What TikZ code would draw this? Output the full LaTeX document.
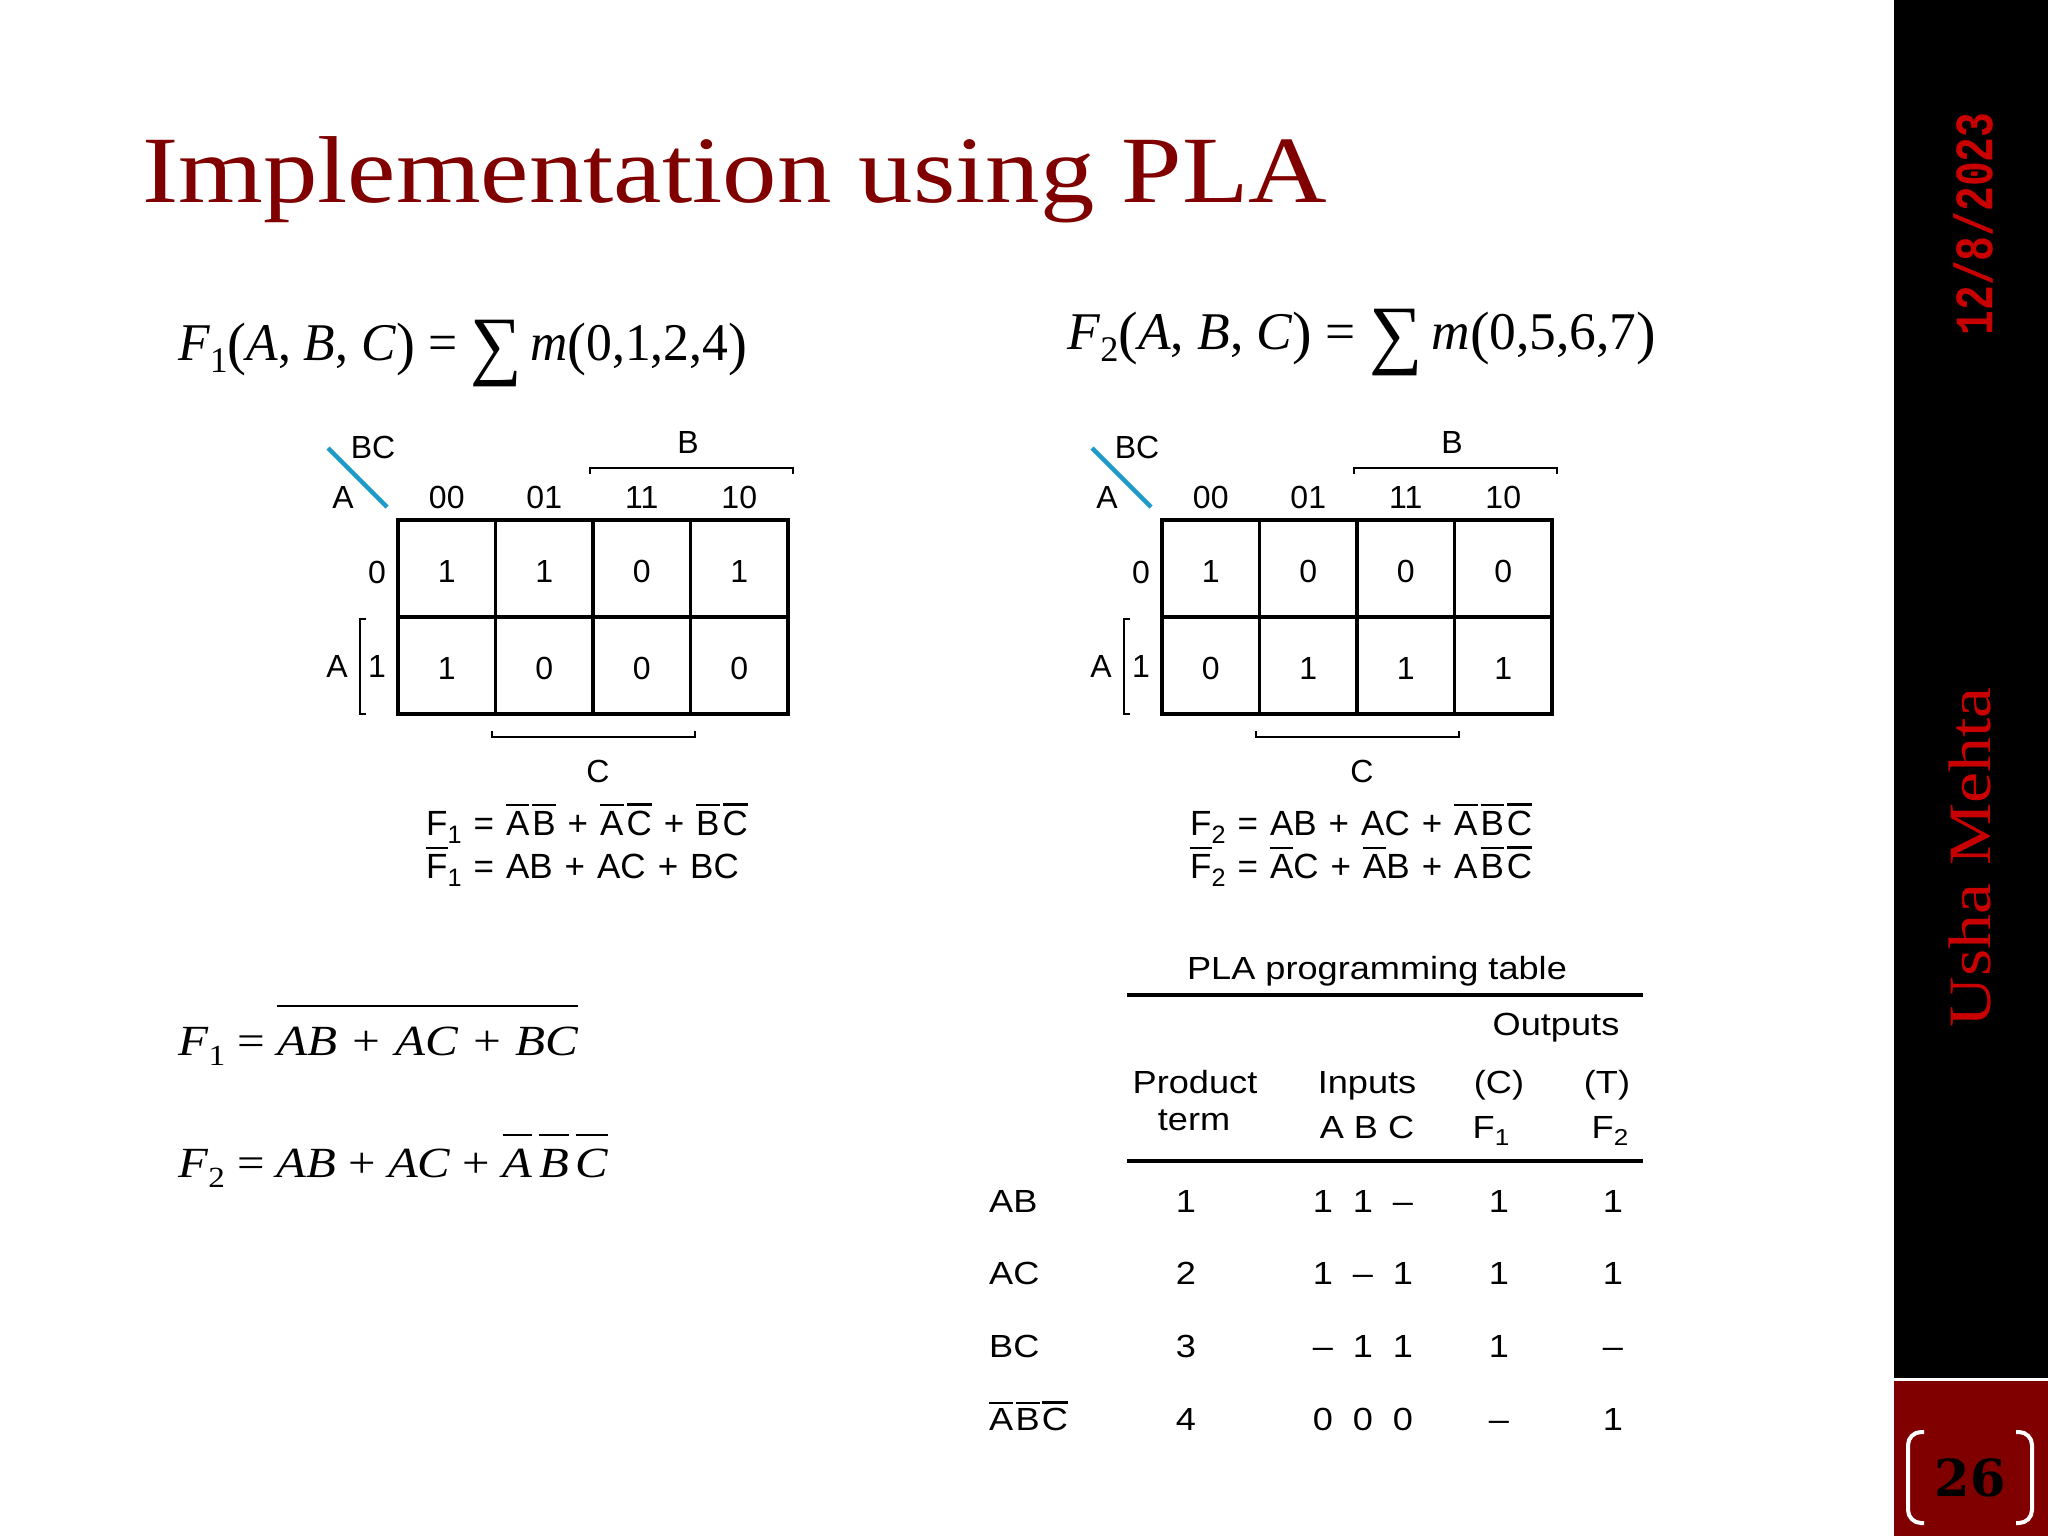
\documentclass[tikz,border=0pt]{standalone}
\usepackage{fontspec}
\setmainfont{Liberation Serif}
\newfontfamily\sansf{Liberation Sans}
\newfontfamily\monof{Liberation Mono}
\newfontfamily\dvsf{DejaVu Serif}
\definecolor{titlered}{RGB}{128,0,0}
\definecolor{sidered}{RGB}{200,0,0}
\definecolor{boxred}{RGB}{128,0,0}
\definecolor{kblue}{RGB}{30,155,200}
\newcommand\fitw[2]{\resizebox{#1}{\height}{#2}}
\newcommand\ovbar[3]{\vbox{\hrule height #1\kern #2\hbox{#3}}}
\newcommand\sbs[2][0.72]{\raisebox{-0.24em}{\scalebox{#1}{#2}}}
\newcommand\kb[1]{\ovbar{2.6pt}{4.5pt}{#1}}
\newcommand\tb[1]{\ovbar{2.5pt}{4pt}{#1}}
\newcommand\ts[1]{\scalebox{1.13}[1]{#1}}
\newcommand\bigS{\raisebox{-0.2em}{\scalebox{1.4}[1.45]{∑}}}
\newcommand\bp[1]{\raisebox{-0.06em}{\scalebox{1.1}{#1}}}
\newcommand\widesp{\spaceskip=12pt\relax}
\tikzset{
  kml/.style={font=\sansf\fontsize{32}{38}\selectfont, inner sep=0pt, anchor=base},
  cell/.style={draw, line width=3.5pt, minimum width=97.5pt, minimum height=97pt,
    inner sep=0pt, text height=28pt, text depth=0pt, font=\sansf\fontsize{32}{38}\selectfont},
  brk/.style={line width=1.7pt},
  keq/.style={font=\sansf\fontsize{35}{42}\selectfont\widesp, inner sep=0pt, anchor=base west},
  tbl/.style={font=\sansf\fontsize{32}{38}\selectfont, inner sep=0pt, anchor=base},
  tblw/.style={tbl, anchor=base west},
  rulel/.style={line width=3.5pt},
  seq/.style={inner sep=0pt, anchor=base west},
}
\newcommand\kmap[3]{%
\begin{scope}[shift={(#2,0)}]
\foreach \v [count=\i from 0] in {#3}{%
  \pgfmathtruncatemacro\cc{mod(\i,4)}%
  \pgfmathtruncatemacro\rr{div(\i,4)}%
  \node[cell] (#1c\i) at ({446.75+97.5*\cc},{568.5+97*\rr}) {\v};
}
\foreach \lab [count=\i from 0] in {00,01,11,10}{%
  \node[kml] (#1h\i) at ({446.75+97.5*\i},508) {\lab};
}
\node[kml] (#1B) at (688,453) {B};
\node[kml] (#1BC) at (373,458) {BC};
\node[kml] (#1Ac) at (343,508) {A};
\node[kml] (#1r0) at (377,583) {0};
\node[kml] (#1r1) at (377,677) {1};
\node[kml] (#1A) at (337,677) {A};
\node[kml] (#1C) at (598,782) {C};
\draw[brk] (590,474) -- (590,468) -- (793,468) -- (793,474);
\draw[brk] (366,619) -- (360,619) -- (360,714) -- (366,714);
\draw[brk] (492,731) -- (492,737) -- (695,737) -- (695,731);
\draw[kblue, line width=4.5pt] (328,448) -- (387,507);
\end{scope}}
\begin{document}
\begin{tikzpicture}[x=1pt,y=-1pt]
\useasboundingbox (0,0) rectangle (2048,1536);
\fill[white] (0,0) rectangle (2048,1536);
% sidebar
\fill[black] (1894,0) rectangle (2048,1378);
\fill[boxred] (1894,1381) rectangle (2048,1536);
\node[rotate=90, inner sep=0pt, text=sidered] (date) at (1973,224)
  {\fitw{223pt}{\monof\bfseries\fontsize{54}{60}\selectfont 12/8/2023}};
\node[rotate=90, inner sep=0pt, text=sidered] (author) at (1970,857)
  {\fitw{340pt}{\fontsize{60}{70}\selectfont Usha Mehta}};
\node[inner sep=0pt, font=\dvsf\bfseries\fontsize{51}{60}\selectfont] (pg) at (1970,1478) {26};
\draw[white, line width=4pt, rounded corners=13pt] (1924,1432) -- (1908,1432) -- (1908,1523) -- (1924,1523);
\draw[white, line width=4pt, rounded corners=13pt] (2016,1432) -- (2032,1432) -- (2032,1523) -- (2016,1523);
% title
\node[seq, text=titlered] (title) at (142,203)
  {\fitw{1185pt}{\fontsize{95}{110}\selectfont Implementation using PLA}};
% top equations
\node[seq] (eqf1) at (178,360)
  {\fitw{569pt}{\fontsize{53}{60}\selectfont\textit{F}\sbs[0.68]{1}\bp{(}\textit{A}, \textit{B}, \textit{C}\bp{)} = \bigS\,\textit{m}\bp{(}0,1,2,4\bp{)}}};
\node[seq] (eqf2) at (1067,349)
  {\fitw{589pt}{\fontsize{53}{60}\selectfont\textit{F}\sbs[0.68]{2}\bp{(}\textit{A}, \textit{B}, \textit{C}\bp{)} = \bigS\,\textit{m}\bp{(}0,5,6,7\bp{)}}};
% K-maps
\kmap{ka}{0}{1,1,0,1,1,0,0,0}
\kmap{kb}{764}{1,0,0,0,0,1,1,1}
% K-map equations
\node[keq] (e1a) at (426,835) {F\sbs{1} = \kb{A}\kern3pt\kb{B} + \kb{A}\kern3pt\kb{C} + \kb{B}\kern3pt\kb{C}};
\node[keq] (e1b) at (426,878) {\kb{F}\sbs{1} = AB + AC + BC};
\node[keq] (e2a) at (1190,835) {F\sbs{2} = AB + AC + \kb{A}\kern3pt\kb{B}\kern3pt\kb{C}};
\node[keq] (e2b) at (1190,878) {\kb{F}\sbs{2} = \kb{A}C + \kb{A}B + A\kern3pt\kb{B}\kern3pt\kb{C}};
% bottom-left equations
\node[seq] (bf1) at (178,1055)
  {\fitw{400pt}{\fontsize{43}{50}\selectfont\textit{F}\sbs[0.68]{1} = \ovbar{1.8pt}{20pt}{\itshape AB + AC + BC}}};
\node[seq] (bf2) at (178,1177)
  {\fitw{430pt}{\fontsize{43}{50}\selectfont\textit{F}\sbs[0.68]{2} = \textit{AB} + \textit{AC} + \ovbar{1.8pt}{13pt}{\itshape A}\kern6pt\ovbar{1.8pt}{13pt}{\itshape B}\kern6pt\ovbar{1.8pt}{13pt}{\itshape C}}};
% PLA table
\node[tbl] (ttitle) at (1377,979) {\ts{PLA programming table}};
\coordinate (r1l) at (1127,995);
\coordinate (r1r) at (1643,995);
\draw[rulel] (r1l) -- (r1r);
\node[tbl] (tout) at (1556,1035) {\ts{Outputs}};
\node[tbl] (tprod) at (1195,1093) {\ts{Product}};
\node[tbl] (tterm) at (1194,1130) {\ts{term}};
\node[tbl] (tinp) at (1367,1093) {\ts{Inputs}};
\node[tbl] (tabc) at (1367,1138) {\ts{A B C}};
\node[tbl] (tc) at (1499,1093) {\ts{(C)}};
\node[tbl] (tf1) at (1491,1138) {\ts{F\sbs{1}}};
\node[tbl] (tt) at (1607,1093) {\ts{(T)}};
\node[tbl] (tf2) at (1610,1138) {\ts{F\sbs{2}}};
\coordinate (r2l) at (1127,1161);
\coordinate (r2r) at (1643,1161);
\draw[rulel] (r2l) -- (r2r);
\foreach \lab/\p/\a/\b/\c/\fa/\fb [count=\r from 0] in
  {AB/1/1/1/–/1/1, AC/2/1/–/1/1/1, BC/3/–/1/1/1/–, {\tb{A}\kern2pt\tb{B}\kern2pt\tb{C}}/4/0/0/0/–/1}{%
  \pgfmathsetmacro\yy{1212+72.67*\r}
  \node[tblw] (tl\r) at (989,\yy) {\ts{\lab}};
  \node[tbl] (tp\r) at (1186,\yy) {\ts{\p}};
  \node[tbl] (tia\r) at (1323,\yy) {\ts{\a}};
  \node[tbl] (tib\r) at (1363,\yy) {\ts{\b}};
  \node[tbl] (tic\r) at (1403,\yy) {\ts{\c}};
  \node[tbl] (tfa\r) at (1499,\yy) {\ts{\fa}};
  \node[tbl] (tfb\r) at (1613,\yy) {\ts{\fb}};
}
\end{tikzpicture}
\end{document}
